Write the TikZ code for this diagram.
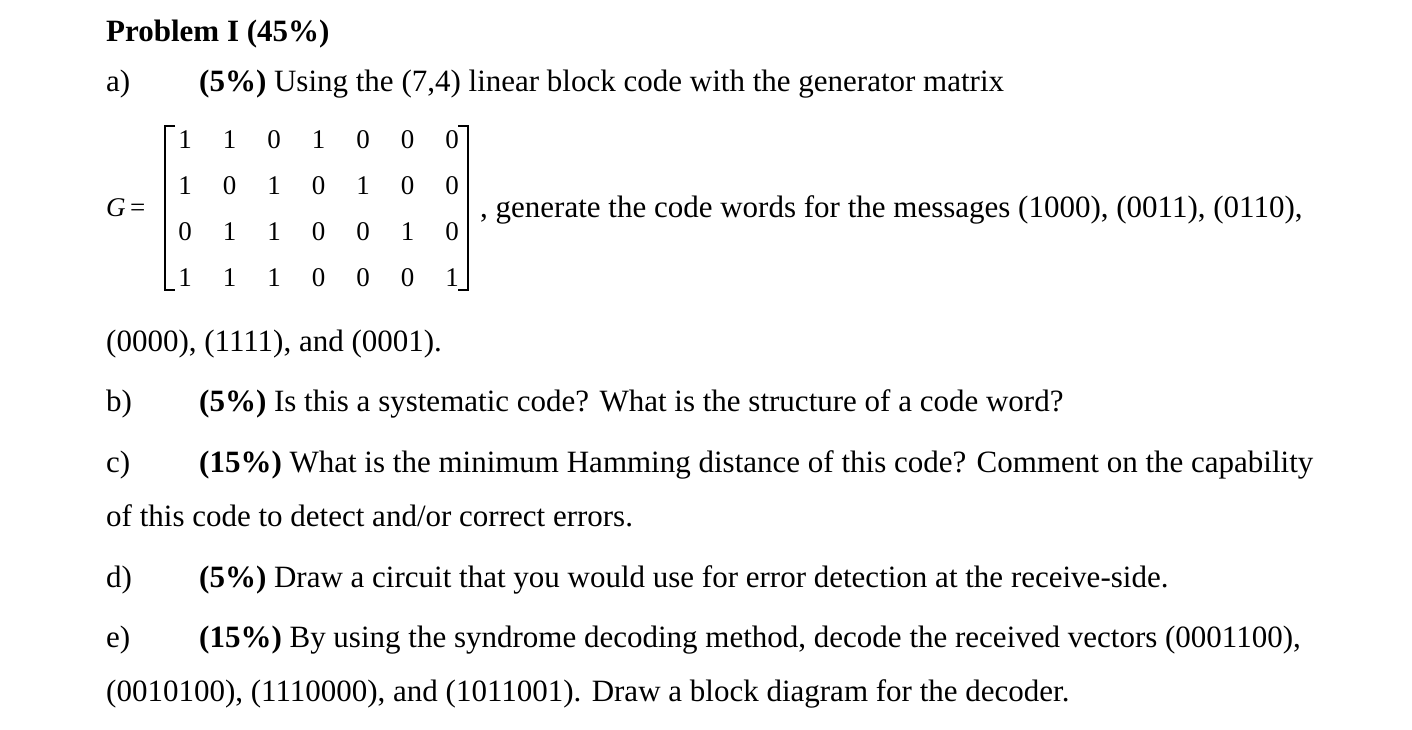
\documentclass[tikz,border=0pt]{standalone}
\usepackage{fontspec}
\setmainfont{Liberation Serif}
\begin{document}
\begin{tikzpicture}[x=1pt,y=-1pt,
  txt/.style={anchor=base west,inner sep=0pt,font=\fontsize{31}{34}\selectfont},
  num/.style={anchor=base,inner sep=0pt,font=\fontsize{27}{30}\selectfont},
  brk/.style={line width=1.2pt}]
\useasboundingbox (0,0) rectangle (1412,729);
\node[txt] (title) at (106,41) {\textbf{Problem I (45\%)}};
\node[txt] (la) at (106,91) {a)};
\node[txt] (ta) at (199,91) {\textbf{(5\%)} Using the (7,4) linear block code with the generator matrix};
\node[txt,font=\fontsize{27}{30}\selectfont] (G) at (106,216) {\itshape G\,\normalfont =};
\draw[brk] (175,126) -- (165,126) -- (165,290) -- (175,290);
\draw[brk] (458,126) -- (468,126) -- (468,290) -- (458,290);
\foreach \r [count=\i] in {{1,1,0,1,0,0,0},{1,0,1,0,1,0,0},{0,1,1,0,0,1,0},{1,1,1,0,0,0,1}}{
  \foreach \v [count=\j] in \r {
    \node[num] (m\i\j) at ({185+44.5*(\j-1)},{148+46*(\i-1)}) {\v};
  }
}
\node[txt] (tg) at (480,217) {, generate the code words for the messages (1000), (0011), (0110),};
\node[txt] (tg2) at (106,351) {(0000), (1111), and (0001).};
\node[txt] (lb) at (106,411) {b)};
\node[txt] (tb) at (199,411) {\textbf{(5\%)} Is this a systematic code? What is the structure of a code word?};
\node[txt] (lc) at (106,472) {c)};
\node[txt] (tc) at (199,472) {\textbf{(15\%)} What is the minimum Hamming distance of this code? Comment on the capability};
\node[txt] (tc2) at (106,526) {of this code to detect and/or correct errors.};
\node[txt] (ld) at (106,587) {d)};
\node[txt] (td) at (199,587) {\textbf{(5\%)} Draw a circuit that you would use for error detection at the receive-side.};
\node[txt] (le) at (106,647) {e)};
\node[txt] (te) at (199,647) {\textbf{(15\%)} By using the syndrome decoding method, decode the received vectors (0001100),};
\node[txt] (te2) at (106,701) {(0010100), (1110000), and (1011001). Draw a block diagram for the decoder.};
\end{tikzpicture}
\end{document}
